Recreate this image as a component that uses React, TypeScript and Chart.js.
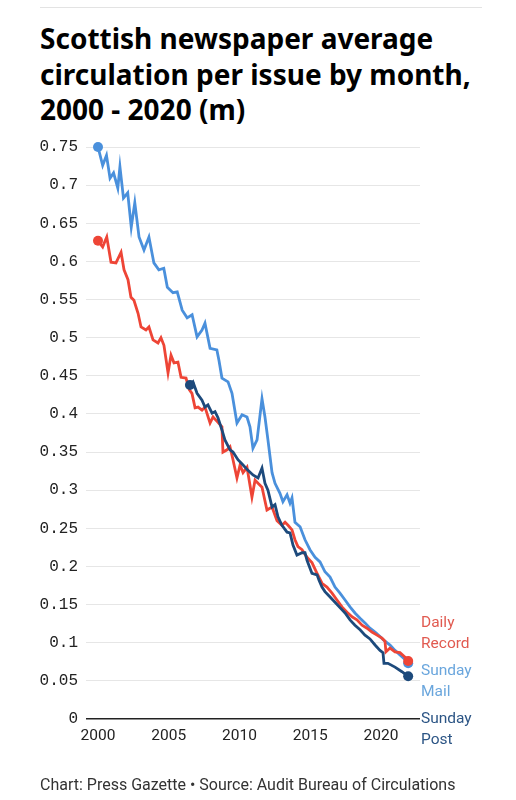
import React, { useEffect, useRef } from "react";
import { Chart, registerables } from "chart.js";

Chart.register(...registerables);

const titleLines = ["Scottish newspaper average", "circulation per issue by month,", "2000 - 2020 (m)"];
const footerText = "Chart: Press Gazette \u2022 Source: Audit Bureau of Circulations";

const xTickYears = [2000, 2005, 2010, 2015, 2020];
const yTickValues = [0, 0.05, 0.1, 0.15, 0.2, 0.25, 0.3, 0.35, 0.4, 0.45, 0.5, 0.55, 0.6, 0.65, 0.7, 0.75];

const sundayMailYears = [
  2000.0, 2000.33, 2000.6, 2000.85, 2001.1, 2001.4, 2001.55, 2001.8, 2002.1, 2002.35, 2002.6, 2002.9,
  2003.25, 2003.6, 2003.95, 2004.3, 2004.65, 2004.9, 2005.3, 2005.6, 2005.95, 2006.3, 2006.65, 2007.0,
  2007.35, 2007.56, 2007.92, 2008.4, 2008.55, 2008.76, 2009.19, 2009.47, 2009.82, 2010.18, 2010.53,
  2010.74, 2010.95, 2011.24, 2011.59, 2011.8, 2012.01, 2012.3, 2012.51, 2012.86, 2013.07, 2013.36,
  2013.57, 2013.71, 2013.92, 2014.28, 2014.63, 2014.98, 2015.34, 2015.69, 2016.04, 2016.4, 2016.75,
  2017.1, 2017.46, 2017.81, 2018.16, 2018.52, 2018.87, 2019.22, 2019.58, 2019.93, 2020.28, 2020.64,
  2020.99, 2021.34, 2021.7, 2021.92,
];
const sundayMailValues = [
  0.75, 0.726, 0.739, 0.709, 0.716, 0.696, 0.724, 0.683, 0.69, 0.645, 0.677, 0.632,
  0.615, 0.632, 0.598, 0.589, 0.591, 0.566, 0.559, 0.56, 0.536, 0.526, 0.53, 0.501,
  0.51, 0.519, 0.486, 0.484, 0.47, 0.447, 0.442, 0.427, 0.388, 0.399, 0.396,
  0.383, 0.355, 0.366, 0.42, 0.396, 0.366, 0.323, 0.309, 0.296, 0.285, 0.294,
  0.283, 0.29, 0.258, 0.252, 0.235, 0.222, 0.212, 0.206, 0.193, 0.186, 0.173,
  0.165, 0.156, 0.147, 0.139, 0.132, 0.126, 0.119, 0.114, 0.108, 0.102, 0.097,
  0.09, 0.084, 0.078, 0.073,
];

const dailyRecordYears = [
  2000.0, 2000.33, 2000.62, 2000.92, 2001.27, 2001.63, 2001.84, 2002.12, 2002.33, 2002.54, 2002.83,
  2003.04, 2003.39, 2003.6, 2003.89, 2004.24, 2004.45, 2004.66, 2004.95, 2005.16, 2005.37, 2005.65,
  2005.87, 2006.22, 2006.45, 2006.64, 2006.86, 2007.07, 2007.35, 2007.56, 2007.92, 2008.13, 2008.48,
  2008.76, 2008.83, 2009.12, 2009.33, 2009.54, 2009.82, 2010.04, 2010.25, 2010.53, 2010.88, 2011.1,
  2011.31, 2011.59, 2011.94, 2012.3, 2012.65, 2013.0, 2013.22, 2013.43, 2013.71, 2013.92, 2014.13,
  2014.42, 2014.77, 2015.12, 2015.48, 2015.83, 2016.18, 2016.54, 2016.89, 2017.24, 2017.6, 2017.95,
  2018.3, 2018.66, 2019.01, 2019.36, 2019.72, 2020.07, 2020.28, 2020.35, 2020.64, 2020.99, 2021.34,
  2021.7, 2021.92,
];
const dailyRecordValues = [
  0.627, 0.619, 0.632, 0.599, 0.598, 0.612, 0.589, 0.576, 0.553, 0.549, 0.532,
  0.514, 0.51, 0.514, 0.497, 0.493, 0.5, 0.49, 0.454, 0.477, 0.467, 0.468,
  0.448, 0.447, 0.432, 0.427, 0.408, 0.409, 0.405, 0.409, 0.388, 0.396, 0.389,
  0.383, 0.35, 0.353, 0.357, 0.34, 0.316, 0.333, 0.323, 0.33, 0.291, 0.313,
  0.309, 0.304, 0.274, 0.278, 0.26, 0.254, 0.258, 0.254, 0.248, 0.235, 0.226,
  0.222, 0.212, 0.205, 0.191, 0.178, 0.173, 0.165, 0.156, 0.147, 0.14, 0.134,
  0.13, 0.123, 0.119, 0.114, 0.11, 0.106, 0.102, 0.088, 0.093, 0.088, 0.087,
  0.081, 0.076,
];

const sundayPostYears = [
  2006.5, 2006.71, 2007.0, 2007.35, 2007.56, 2007.77, 2008.06, 2008.27, 2008.48, 2008.76, 2008.97,
  2009.33, 2009.54, 2009.89, 2010.25, 2010.6, 2010.95, 2011.31, 2011.59, 2011.8, 2012.01, 2012.3,
  2012.51, 2012.72, 2013.0, 2013.36, 2013.57, 2013.78, 2014.06, 2014.42, 2014.63, 2014.77, 2015.12,
  2015.48, 2015.62, 2015.83, 2016.04, 2016.4, 2016.75, 2017.1, 2017.46, 2017.81, 2018.16, 2018.52,
  2018.87, 2019.22, 2019.58, 2019.93, 2020.14, 2020.21, 2020.49, 2020.99, 2021.48, 2021.92,
];
const sundayPostValues = [
  0.438, 0.442, 0.427, 0.418, 0.409, 0.412, 0.401, 0.403, 0.395, 0.379, 0.366,
  0.353, 0.35, 0.34, 0.333, 0.326, 0.32, 0.316, 0.329, 0.309, 0.3, 0.278,
  0.281, 0.265, 0.254, 0.245, 0.244, 0.228, 0.215, 0.218, 0.218, 0.208, 0.191,
  0.189, 0.182, 0.173, 0.167, 0.16, 0.153, 0.146, 0.139, 0.13, 0.123, 0.117,
  0.11, 0.105, 0.097, 0.09, 0.087, 0.073, 0.073, 0.068, 0.062, 0.056,
];

const seriesNames = ["Sunday Post", "Daily Record", "Sunday Mail"];
const lineColors = ["#1d4a7c", "#ee4536", "#4a90dc"];
const labelColors = ["#2c5585", "#e15a50", "#6aa6dd"];

function toPoints(xs: number[], ys: number[]) {
  return xs.map((x, i) => ({ x, y: ys[i] }));
}

const endLabelsPlugin = {
  id: "endLabels",
  afterDatasetsDraw(chart: any) {
    const { ctx, chartArea } = chart;
    const x = chartArea.right;
    const b = chartArea.bottom;
    const entries = [
      { lines: ["Daily", "Record"], color: labelColors[1], y: b - 96 },
      { lines: ["Sunday", "Mail"], color: labelColors[2], y: b - 48 },
      { lines: ["Sunday", "Post"], color: labelColors[0], y: b },
    ];
    ctx.save();
    ctx.font = "15.5px Roboto";
    ctx.textAlign = "left";
    ctx.textBaseline = "middle";
    entries.forEach((e) => {
      ctx.fillStyle = e.color;
      e.lines.forEach((l, i) => ctx.fillText(l, x + 1, e.y + i * 21));
    });
    ctx.restore();
  },
};

function ChartCanvas() {
  const ref = useRef<HTMLCanvasElement | null>(null);
  useEffect(() => {
    if (!ref.current) return;
    const seriesData = [
      toPoints(sundayPostYears, sundayPostValues),
      toPoints(dailyRecordYears, dailyRecordValues),
      toPoints(sundayMailYears, sundayMailValues),
    ];
    const chart = new Chart(ref.current, {
      type: "line",
      data: {
        datasets: seriesData.map((d, i) => ({
          label: seriesNames[i],
          data: d,
          borderColor: lineColors[i],
          backgroundColor: lineColors[i],
          borderWidth: 2.8,
          tension: 0,
          clip: false as any,
          pointRadius: (c: any) => (c.dataIndex === 0 || c.dataIndex === d.length - 1 ? 5 : 0),
          pointHoverRadius: 0,
          pointBorderWidth: 0,
        })),
      },
      options: {
        animation: false,
        responsive: false,
        maintainAspectRatio: false,
        layout: { padding: { left: 0, right: 96, top: 147, bottom: 51 } },
        plugins: { legend: { display: false }, tooltip: { enabled: false } },
        scales: {
          x: {
            type: "linear",
            min: 1999.152,
            max: 2022.756,
            afterBuildTicks: (s: any) => {
              s.ticks = xTickYears.map((v) => ({ value: v }));
            },
            afterFit: (s: any) => {
              s.height = 30;
            },
            grid: { display: false, drawTicks: false },
            border: { display: false },
            ticks: {
              padding: 8,
              color: "#222",
              font: { family: "Roboto", size: 15.5 },
              callback: (v: any) => String(v),
              maxRotation: 0,
            },
          },
          y: {
            type: "linear",
            min: 0,
            max: 0.75,
            afterBuildTicks: (s: any) => {
              s.ticks = yTickValues.map((v) => ({ value: v }));
            },
            afterFit: (s: any) => {
              s.width = 86;
            },
            grid: {
              drawTicks: false,
              color: (c: any) => (c.tick && c.tick.value === 0 ? "#222" : "#e6e6e6"),
              lineWidth: (c: any) => (c.tick && c.tick.value === 0 ? 1.5 : 1),
            },
            border: { display: false },
            ticks: {
              padding: 8,
              color: "#222",
              font: { family: "'Liberation Mono', monospace", size: 16 },
              callback: (v: any) => String(Number(Number(v).toFixed(2))),
            },
          },
        },
      },
      plugins: [endLabelsPlugin],
    });
    return () => chart.destroy();
  }, []);
  return (
    <canvas
      ref={ref}
      width={516}
      height={800}
      style={{ position: "absolute", left: 0, top: 0, width: 516, height: 800 }}
    />
  );
}

export default function App() {
  return (
    <div style={{ position: "fixed", left: 0, top: 0, width: 516, height: 800, background: "#fff", overflow: "hidden" }}>
      <div style={{ position: "absolute", left: 40, top: 7, width: 442, height: 1, background: "#e3e3e3" }} />
      <div
        style={{
          position: "absolute",
          left: 40,
          top: 21,
          fontFamily: "'Noto Sans', sans-serif",
          fontWeight: 700,
          fontSize: 28,
          lineHeight: "35.5px",
          color: "#000",
          whiteSpace: "nowrap",
        }}
      >
        {titleLines.map((t, i) => (
          <div key={i}>{t}</div>
        ))}
      </div>
      <ChartCanvas />
      <div
        style={{
          position: "absolute",
          left: 40,
          top: 775,
          fontFamily: "Roboto, sans-serif",
          fontSize: 16,
          lineHeight: "20px",
          color: "#333",
          whiteSpace: "nowrap",
        }}
      >
        {footerText}
      </div>
    </div>
  );
}
